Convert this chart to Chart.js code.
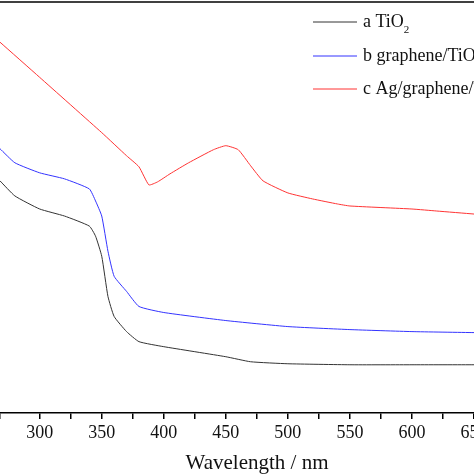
<!DOCTYPE html>
<html><head><script src="https://cdn.jsdelivr.net/npm/chart.js@4"></script>
<style>body{margin:0;background:#fff}#w{width:474px;height:474px}</style></head>
<body><div id="w"><canvas id="c"></canvas></div>
<script>
const wlA=[268,280,300,320,340,345,350,355,360,370,380,400,450,470,500,550,600,650];
const absA=[2.31,2.16,2.03,1.96,1.86,1.76,1.56,1.16,0.96,0.81,0.71,0.66,0.56,0.51,0.49,0.48,0.48,0.48];
const wlB=[268,280,300,320,340,345,350,355,360,370,380,400,450,500,550,600,650];
const absB=[2.63,2.49,2.39,2.33,2.23,2.11,1.96,1.61,1.36,1.21,1.06,1.00,0.92,0.86,0.83,0.81,0.80];
const wlC=[268,300,350,370,380,388,395,405,420,440,450,460,470,480,500,520,540,550,600,620,650];
const absC=[3.69,3.34,2.79,2.56,2.45,2.27,2.30,2.38,2.49,2.62,2.66,2.62,2.46,2.31,2.19,2.13,2.08,2.06,2.03,2.01,1.98];
const xTicks=[300,350,400,450,500,550,600,650];
const labels=['a TiO','b graphene/TiO','c Ag/graphene/TiO'];
const colors=['#333333','#3333ff','#ff3333'];
const pts=(x,y)=>x.map((v,i)=>({x:v,y:y[i]}));
const deco={id:'deco',afterDraw(ch){const c=ch.ctx,a=ch.chartArea,s=ch.scales.x;c.save();
c.strokeStyle='#000';c.lineWidth=1.5;c.beginPath();c.moveTo(a.left,a.top);c.lineTo(a.right,a.top);c.stroke();
c.fillStyle='#111';c.font='18px "Liberation Serif"';c.textAlign='center';c.textBaseline='middle';
xTicks.forEach(t=>c.fillText(String(t),s.getPixelForValue(t),433));
c.font='21px "Liberation Serif"';c.fillText('Wavelength / nm',257,463);
c.textAlign='left';const ys=[22,56,89];
labels.forEach((l,i)=>{c.strokeStyle=colors[i];c.lineWidth=1;c.beginPath();c.moveTo(313,ys[i]);c.lineTo(357,ys[i]);c.stroke();
c.font='18px "Liberation Serif"';c.fillStyle='#111';c.fillText(l,363,ys[i]);const w=c.measureText(l).width;
c.font='11px "Liberation Serif"';c.fillText('2',363+w,ys[i]+8);});
c.restore();}};
new Chart(document.getElementById('c'),{type:'line',
data:{datasets:[0,1,2].map(i=>({label:labels[i],data:pts([wlA,wlB,wlC][i],[absA,absB,absC][i]),borderColor:colors[i],borderWidth:1,pointRadius:0,tension:0.15}))},
options:{animation:false,responsive:true,maintainAspectRatio:false,
layout:{padding:{top:2,bottom:55,left:0,right:0}},
plugins:{legend:{display:false},tooltip:{enabled:false}},
scales:{x:{type:'linear',min:268,max:650,border:{color:'#000',width:1.5},
grid:{drawOnChartArea:false,tickLength:6,color:'#000',lineWidth:1.5},ticks:{display:false,stepSize:25}},
y:{display:false,min:0,max:4.09}}},plugins:[deco]});
</script></body></html>
